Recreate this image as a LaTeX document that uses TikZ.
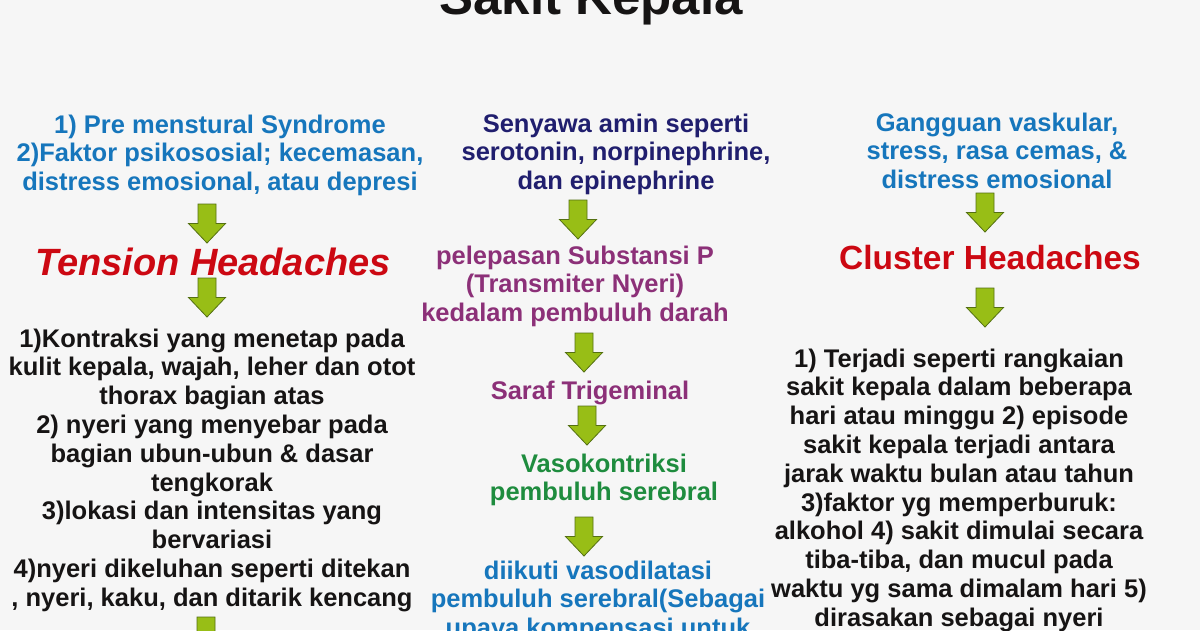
\documentclass[tikz,border=0pt]{standalone}
\usepackage{fontspec}
\setmainfont{Liberation Sans}
\definecolor{bgc}{HTML}{F6F6F6}
\definecolor{tblue}{RGB}{22,118,188}
\definecolor{tnavy}{RGB}{32,30,110}
\definecolor{tpurple}{RGB}{140,48,120}
\definecolor{tgreen}{RGB}{30,140,62}
\definecolor{tred}{RGB}{204,8,18}
\definecolor{tblack}{RGB}{22,20,20}
\definecolor{arrfill}{RGB}{152,190,22}
\definecolor{arredge}{RGB}{84,112,18}
\tikzset{
  % anchor=base of a multi-line node = baseline of its LAST line
  txt/.style={anchor=base, inner sep=0pt, align=center,
    font=\fontsize{25.5}{28.8}\selectfont\bfseries},
  blockarrow/.pic={
    \draw[fill=arrfill, draw=arredge, line width=0.8pt, line join=miter]
      (-9,0) -- (9,0) -- (9,19.5) -- (18.5,19.5) -- (0,39) --
      (-18.5,19.5) -- (-9,19.5) -- cycle;
  }
}
\begin{document}
\begin{tikzpicture}[x=1pt,y=-1pt]
\useasboundingbox (0,0) rectangle (1200,630);
\fill[bgc] (0,0) rectangle (1200,630);

% title
\node[txt, font=\fontsize{51}{56}\selectfont\bfseries, text=tblack] (title) at (591,14) {Sakit Kepala};

% left column
\node[txt, text=tblue] (l1) at (220,190.6) {1) Pre menstural Syndrome\\2)Faktor psikososial; kecemasan,\\distress emosional, atau depresi};
\pic (la1) at (207,204) {blockarrow};
\node[txt, text=tred, font=\fontsize{38}{42}\selectfont\bfseries\itshape] (l2) at (213,275) {Tension Headaches};
\pic (la2) at (207,278) {blockarrow};
\node[txt, text=tblack] (l3) at (212,606.2) {1)Kontraksi yang menetap pada\\kulit kepala, wajah, leher dan otot\\thorax bagian atas\\2) nyeri yang menyebar pada\\bagian ubun-ubun \& dasar\\tengkorak\\3)lokasi dan intensitas yang\\bervariasi\\4)nyeri dikeluhan seperti ditekan\\, nyeri, kaku, dan ditarik kencang};
\pic (la3) at (206,617) {blockarrow};

% middle column
\node[txt, text=tnavy] (m1) at (616,189.6) {Senyawa amin seperti\\serotonin, norpinephrine,\\dan epinephrine};
\pic (ma1) at (578,200) {blockarrow};
\node[txt, text=tpurple] (m2) at (575,321.6) {pelepasan Substansi P\\(Transmiter Nyeri)\\kedalam pembuluh darah};
\pic (ma2) at (584,333) {blockarrow};
\node[txt, text=tpurple] (m3) at (590,399) {Saraf Trigeminal};
\pic (ma3) at (587,406) {blockarrow};
\node[txt, text=tgreen] (m4) at (604,500.8) {Vasokontriksi\\pembuluh serebral};
\pic (ma4) at (584,517) {blockarrow};
\node[txt, text=tblue] (m5) at (598,636.6) {diikuti vasodilatasi\\pembuluh serebral(Sebagai\\upaya kompensasi untuk};

% right column
\node[txt, text=tblue] (r1) at (997,188.6) {Gangguan vaskular,\\stress, rasa cemas, \&\\distress emosional};
\pic (ra1) at (985,193) {blockarrow};
\node[txt, text=tred, font=\fontsize{33.5}{38}\selectfont\bfseries] (r2) at (990,269) {Cluster Headaches};
\pic (ra2) at (985,288) {blockarrow};
\node[txt, text=tblack] (r3) at (959,626.2) {1) Terjadi seperti rangkaian\\sakit kepala dalam beberapa\\hari atau minggu 2) episode\\sakit kepala terjadi antara\\jarak waktu bulan atau tahun\\3)faktor yg memperburuk:\\alkohol 4) sakit dimulai secara\\tiba-tiba, dan mucul pada\\waktu yg sama dimalam hari 5)\\dirasakan sebagai nyeri};
\end{tikzpicture}
\end{document}
